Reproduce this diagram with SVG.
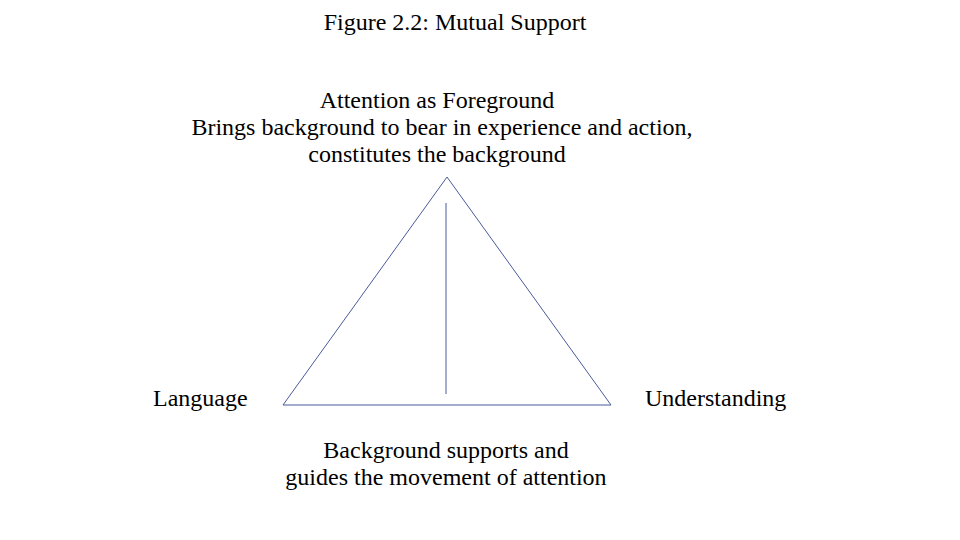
<svg xmlns="http://www.w3.org/2000/svg" width="960" height="540" viewBox="0 0 960 540">
<style>
text{font-family:"Liberation Serif","Times New Roman",serif;font-size:24px;fill:#000}
.c{text-anchor:middle}
.ln{stroke:#4a5b9b;stroke-width:1;fill:none}
</style>
<rect width="960" height="540" fill="#fff"/>
<text class="c" x="455" y="30">Figure 2.2: Mutual Support</text>
<g id="connectors">
<polygon class="ln" points="447,177 283,405 611,405"/>
<line class="ln" x1="446" y1="203" x2="446" y2="394"/>
</g>
<g id="attention">
<text class="c" x="437" y="108">Attention as Foreground</text>
<text class="c" x="442" y="135">Brings background to bear in experience and action,</text>
<text class="c" x="437" y="162">constitutes the background</text>
</g>
<g id="language"><text x="153" y="406">Language</text></g>
<g id="understanding"><text x="645" y="406">Understanding</text></g>
<g id="background">
<text class="c" x="446" y="458">Background supports and</text>
<text class="c" x="446" y="485">guides the movement of attention</text>
</g>
</svg>
